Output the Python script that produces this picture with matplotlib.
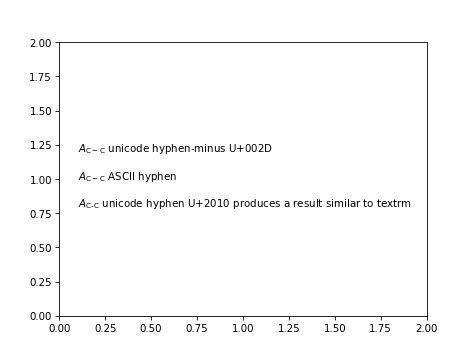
import matplotlib
matplotlib.use("Agg")
import matplotlib.pyplot as plt

labels = [
    r"$A_{\rm{C-C}}$ unicode hyphen-minus U+002D",
    r"$A_{\rm{C-C}}$ ASCII hyphen",
    "$A_{\\rm{C\u2010C}}$ unicode hyphen U+2010 produces a result similar to textrm",
]
xs = [0.1, 0.1, 0.1]
ys = [1.2, 1.0, 0.8]

fig, ax = plt.subplots(figsize=(6.4, 4.8))
for x, y, s in zip(xs, ys, labels):
    ax.text(x, y, s)
ax.set_xlim(0, 2)
ax.set_ylim(0, 2)

fig.savefig("out.png", dpi=74.0625)
